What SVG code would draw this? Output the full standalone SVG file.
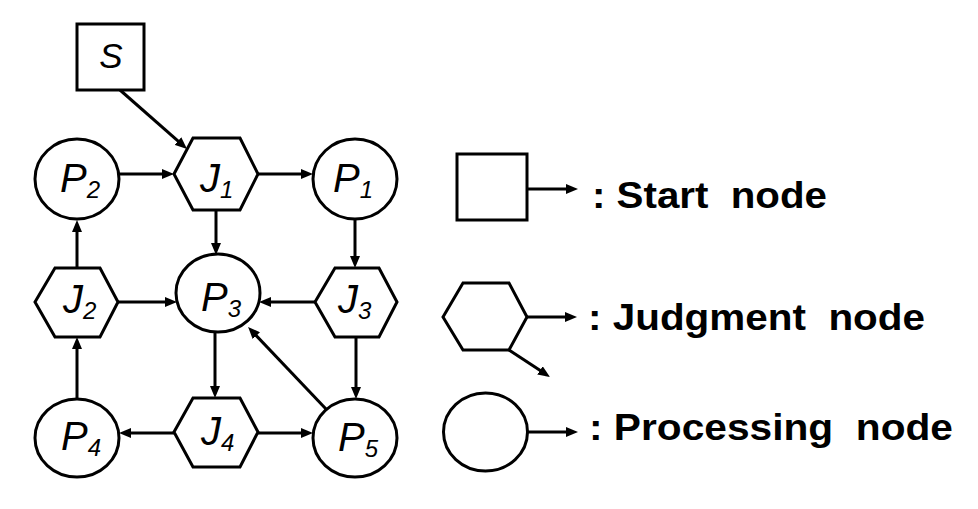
<svg xmlns="http://www.w3.org/2000/svg" width="978" height="509" viewBox="0 0 978 509">
<style>
.shape{fill:#fff;stroke:#000;stroke-width:3}
.edge{fill:none;stroke:#000;stroke-width:3;marker-end:url(#ah)}
.lbl{font-family:"Liberation Sans",Arial,sans-serif;font-style:italic;font-size:40px;fill:#000}
.sub{font-size:24px}
.leg{font-family:"Liberation Sans",Arial,sans-serif;font-weight:bold;font-size:36px;fill:#000}
</style>
<defs>
<marker id="ah" markerUnits="userSpaceOnUse" markerWidth="12" markerHeight="10" refX="4" refY="5" orient="auto">
<path d="M0,0 L12,5 L0,10 Z" fill="#000"/>
</marker>
</defs>
<rect width="978" height="509" fill="#fff"/>

<g id="connectors">
<line class="edge" x1="120" y1="90" x2="181" y2="143.7"/>
<line class="edge" x1="119" y1="174" x2="166" y2="174"/>
<line class="edge" x1="258" y1="174" x2="305" y2="174"/>
<line class="edge" x1="216" y1="210" x2="216" y2="247"/>
<line class="edge" x1="355" y1="219" x2="355" y2="260"/>
<line class="edge" x1="77" y1="268" x2="77" y2="228"/>
<line class="edge" x1="118" y1="302" x2="169" y2="302"/>
<line class="edge" x1="315" y1="302" x2="267" y2="302"/>
<line class="edge" x1="215" y1="332" x2="215" y2="390"/>
<line class="edge" x1="356" y1="337" x2="356" y2="391"/>
<line class="edge" x1="77" y1="399" x2="77" y2="345"/>
<line class="edge" x1="326" y1="409" x2="253.6" y2="332.8"/>
<line class="edge" x1="174" y1="433" x2="127" y2="433"/>
<line class="edge" x1="258" y1="433" x2="305" y2="433"/>
</g>

<g id="S">
<rect class="shape" x="77" y="24" width="67" height="66"/>
<text class="lbl" x="111" y="68" text-anchor="middle" style="font-size:35px">S</text>
</g>
<g id="P2">
<ellipse class="shape" cx="77" cy="179" rx="42" ry="40"/>
<text class="lbl" x="60" y="192">P<tspan class="sub" dy="6">2</tspan></text>
</g>
<g id="J1">
<polygon class="shape" points="174,174 193,138 240,138 258,174 240,210 193,210"/>
<text class="lbl" x="200" y="192">J<tspan class="sub" dy="6">1</tspan></text>
</g>
<g id="P1">
<ellipse class="shape" cx="355" cy="179" rx="42" ry="40"/>
<text class="lbl" x="333" y="192">P<tspan class="sub" dy="6">1</tspan></text>
</g>
<g id="J2">
<polygon class="shape" points="35,302 55,268 100,268 118,302 100,337 55,337"/>
<text class="lbl" x="63" y="313">J<tspan class="sub" dy="6">2</tspan></text>
</g>
<g id="P3">
<ellipse class="shape" cx="218" cy="293" rx="42" ry="39"/>
<text class="lbl" x="201" y="311">P<tspan class="sub" dy="6">3</tspan></text>
</g>
<g id="J3">
<polygon class="shape" points="315,302 335,268 379,268 397,302 379,337 335,337"/>
<text class="lbl" x="338" y="313">J<tspan class="sub" dy="6">3</tspan></text>
</g>
<g id="P4">
<ellipse class="shape" cx="77" cy="438" rx="42" ry="39"/>
<text class="lbl" x="61" y="450">P<tspan class="sub" dy="6">4</tspan></text>
</g>
<g id="J4">
<polygon class="shape" points="174,432 193,398 240,398 258,432 240,467 193,467"/>
<text class="lbl" x="201" y="445">J<tspan class="sub" dy="6">4</tspan></text>
</g>
<g id="P5">
<ellipse class="shape" cx="355" cy="438" rx="42" ry="39"/>
<text class="lbl" x="338" y="451">P<tspan class="sub" dy="6">5</tspan></text>
</g>

<g id="legend-start">
<rect class="shape" x="457" y="154" width="70" height="66"/>
<line class="edge" x1="527" y1="189" x2="570" y2="189"/>
<text class="leg" x="592" y="208" textLength="235" lengthAdjust="spacingAndGlyphs" xml:space="preserve">: Start  node</text>
</g>
<g id="legend-judgment">
<polygon class="shape" points="443,317 463,283 509,283 527,317 509,350 463,350"/>
<line class="edge" x1="527" y1="317" x2="569" y2="317"/>
<line class="edge" x1="509" y1="350" x2="543.3" y2="372.6"/>
<text class="leg" x="588" y="330" textLength="337" lengthAdjust="spacingAndGlyphs" xml:space="preserve">: Judgment  node</text>
</g>
<g id="legend-processing">
<ellipse class="shape" cx="485.5" cy="432" rx="42" ry="39"/>
<line class="edge" x1="528" y1="432" x2="570" y2="432"/>
<text class="leg" x="589" y="440" textLength="364" lengthAdjust="spacingAndGlyphs" xml:space="preserve">: Processing  node</text>
</g>
</svg>
